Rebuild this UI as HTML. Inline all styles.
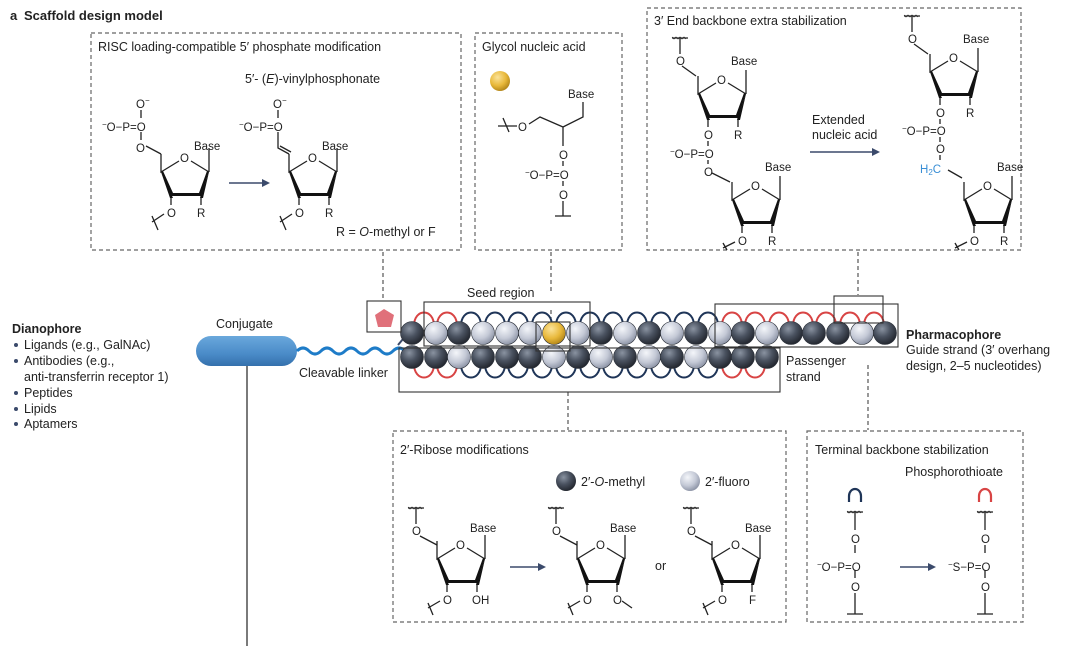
<!DOCTYPE html>
<html><head><meta charset="utf-8"><style>
html,body{margin:0;padding:0;background:#fff}
svg{display:block}
text{font-family:"Liberation Sans",sans-serif;fill:#222}
.t{font-size:12.5px}
.s{font-size:11.5px}
.b{font-weight:bold}
.box{fill:none;stroke:#666;stroke-width:1.2;stroke-dasharray:4 3}
.ln{stroke:#222;stroke-width:1.3;fill:none}
.rect{fill:none;stroke:#333;stroke-width:1.1}
.dash{stroke:#555;stroke-width:1.2;stroke-dasharray:4 3}
</style></head><body>
<svg width="1080" height="646" viewBox="0 0 1080 646" xmlns="http://www.w3.org/2000/svg">
<defs>
<radialGradient id="dk" cx="0.38" cy="0.32" r="0.7"><stop offset="0" stop-color="#8a93a1"/><stop offset="0.5" stop-color="#4a5260"/><stop offset="1" stop-color="#22262e"/></radialGradient>
<radialGradient id="lt" cx="0.38" cy="0.32" r="0.7"><stop offset="0" stop-color="#f4f6fa"/><stop offset="0.6" stop-color="#c4c9d6"/><stop offset="1" stop-color="#8d94a6"/></radialGradient>
<radialGradient id="gd" cx="0.38" cy="0.32" r="0.7"><stop offset="0" stop-color="#fbe39a"/><stop offset="0.6" stop-color="#e8b83a"/><stop offset="1" stop-color="#b3861a"/></radialGradient>
<linearGradient id="pill" x1="0" y1="0" x2="0" y2="1"><stop offset="0" stop-color="#6aa8dc"/><stop offset="0.6" stop-color="#4a8bc8"/><stop offset="1" stop-color="#3470ac"/></linearGradient>
<symbol id="ring" overflow="visible">
<path class="ln" d="M6,3 L24,14 M-6,3 L-24,14 L-24,-4 M24,14 L24,-10 M-14,38 L-14,47 M16,38 L16,47"/>
<path d="M-24,14 L-14,38 L16,38 L24,14 L22,13 L14,35 L-12,35 L-22,13Z" fill="#111"/>
<path d="M-24,14 L-12,40 L-15,40Z M24,14 L15,40 L18,40Z" fill="#111"/>
</symbol>
<symbol id="sq" overflow="visible"><path class="ln" d="M-8,0 L8,0 M0,0 L0,10" /><path d="M-8,-1 l2,2 l2,-2 l2,2 l2,-2 l2,2 l2,-2 l2,2" stroke="#222" stroke-width="0.7" fill="none"/></symbol>
</defs>

<text x="10" y="20" class="b" style="font-size:13px">a</text>
<text x="24" y="20" class="b" style="font-size:13px">Scaffold design model</text>

<rect class="box" x="91" y="33" width="370" height="217"/>
<rect class="box" x="475" y="33" width="147" height="217"/>
<rect class="box" x="647" y="8" width="374" height="242"/>
<rect class="box" x="393" y="431" width="393" height="191"/>
<rect class="box" x="807" y="431" width="216" height="191"/>

<!-- Box1 -->
<text x="98" y="51" class="t">RISC loading-compatible 5′ phosphate modification</text>
<text x="245" y="83" class="t">5′- (<tspan font-style="italic">E</tspan>)-vinylphosphonate</text>
<use href="#ring" x="185" y="158"/>
<text x="180" y="162" class="s">O</text>
<text x="194" y="150" class="s">Base</text>
<text x="167" y="217" class="s">O</text><text x="197" y="217" class="s">R</text>
<path class="ln" d="M161,154 L146,146 M141,110 L141,118 M141,132 L141,140" />
<text x="136" y="108" class="s">O<tspan dy="-5" font-size="8">−</tspan></text>
<text x="102" y="131" class="s"><tspan dy="-4" font-size="8">−</tspan><tspan dy="4">O−P=O</tspan></text>
<text x="136" y="152" class="s">O</text>
<path class="ln" d="M164,214 L152,222 M152,216 l6,14"/>
<path d="M229,183 L262,183" stroke="#3b4a6b" stroke-width="1.5"/><path d="M262,179 L270,183 L262,187Z" fill="#3b4a6b"/>
<use href="#ring" x="313" y="158"/>
<text x="308" y="162" class="s">O</text>
<text x="322" y="150" class="s">Base</text>
<text x="295" y="217" class="s">O</text><text x="325" y="217" class="s">R</text>
<path class="ln" d="M278,110 L278,118 M278,132 L278,148 L289,154 M280,146 L291,152"/>
<text x="273" y="108" class="s">O<tspan dy="-5" font-size="8">−</tspan></text>
<text x="239" y="131" class="s"><tspan dy="-4" font-size="8">−</tspan><tspan dy="4">O−P=O</tspan></text>
<path class="ln" d="M292,214 L280,222 M280,216 l6,14"/>
<text x="336" y="236" class="t">R = <tspan font-style="italic">O</tspan>-methyl or F</text>

<!-- Box2 -->
<text x="482" y="51" class="t">Glycol nucleic acid</text>
<circle cx="500" cy="81" r="10" fill="url(#gd)"/>
<path class="ln" d="M498,126 L517,126 M503,118 l6,14 M529,124 L540,117 L563,127 L583,117 L583,102 M563,127 L563,146 M563,161 L563,166 M563,181 L563,186 M563,201 L563,216 M555,216 L571,216"/>
<text x="518" y="131" class="s">O</text>
<text x="568" y="98" class="s">Base</text>
<text x="559" y="159" class="s">O</text>
<text x="525" y="179" class="s"><tspan dy="-4" font-size="8">−</tspan><tspan dy="4">O−P=O</tspan></text>
<text x="559" y="199" class="s">O</text>

<!-- Box3 -->
<text x="654" y="25" class="t">3′ End backbone extra stabilization</text>
<use href="#sq" x="680" y="38"/>
<path class="ln" d="M680,48 L680,54 M682,66 L696,76"/>
<text x="676" y="65" class="s">O</text>
<use href="#ring" x="722" y="80"/>
<text x="717" y="84" class="s">O</text>
<text x="731" y="65" class="s">Base</text>
<text x="704" y="139" class="s">O</text><text x="734" y="139" class="s">R</text>
<path class="ln" d="M708,141 L708,146 M708,160 L708,164"/>
<text x="670" y="158" class="s"><tspan dy="-4" font-size="8">−</tspan><tspan dy="4">O−P=O</tspan></text>
<text x="704" y="176" class="s">O</text>
<path class="ln" d="M712,173 L730,182"/>
<use href="#ring" x="756" y="186"/>
<text x="751" y="190" class="s">O</text>
<text x="765" y="171" class="s">Base</text>
<text x="738" y="245" class="s">O</text><text x="768" y="245" class="s">R</text>
<path class="ln" d="M735,242 L723,248 M723,243 l4,7"/>
<text x="812" y="124" class="t">Extended</text>
<text x="812" y="139" class="t">nucleic acid</text>
<path d="M810,152 L872,152" stroke="#3b4a6b" stroke-width="1.5"/><path d="M872,148 L880,152 L872,156Z" fill="#3b4a6b"/>
<use href="#sq" x="912" y="16"/>
<path class="ln" d="M912,26 L912,32 M914,44 L928,54"/>
<text x="908" y="43" class="s">O</text>
<use href="#ring" x="954" y="58"/>
<text x="949" y="62" class="s">O</text>
<text x="963" y="43" class="s">Base</text>
<text x="936" y="117" class="s">O</text><text x="966" y="117" class="s">R</text>
<path class="ln" d="M940,119 L940,124 M940,137 L940,142 M940,155 L940,160 M948,170 L962,178"/>
<text x="902" y="135" class="s"><tspan dy="-4" font-size="8">−</tspan><tspan dy="4">O−P=O</tspan></text>
<text x="936" y="153" class="s">O</text>
<text x="920" y="173" class="s" style="fill:#3a8fd6">H<tspan font-size="8" dy="2" style="fill:#3a8fd6">2</tspan><tspan dy="-2" style="fill:#3a8fd6">C</tspan></text>
<use href="#ring" x="988" y="186"/>
<text x="983" y="190" class="s">O</text>
<text x="997" y="171" class="s">Base</text>
<text x="970" y="245" class="s">O</text><text x="1000" y="245" class="s">R</text>
<path class="ln" d="M967,242 L955,248 M955,243 l4,7"/>

<!-- connectors -->
<line class="dash" x1="383" y1="252" x2="383" y2="300"/>
<line class="dash" x1="858" y1="252" x2="858" y2="295"/>
<line class="dash" x1="551" y1="252" x2="551" y2="292"/>
<line class="dash" x1="551" y1="310" x2="551" y2="330"/>
<line class="dash" x1="568" y1="392" x2="568" y2="430"/>
<line class="dash" x1="868" y1="365" x2="868" y2="430"/>

<!-- left -->
<text x="12" y="333" class="t b">Dianophore</text>
<circle cx="16" cy="345" r="2" fill="#3b4a6b"/><text x="24" y="349" class="t">Ligands (e.g., GalNAc)</text>
<circle cx="16" cy="361" r="2" fill="#3b4a6b"/><text x="24" y="365" class="t">Antibodies (e.g.,</text>
<text x="24" y="381" class="t">anti-transferrin receptor 1)</text>
<circle cx="16" cy="393" r="2" fill="#3b4a6b"/><text x="24" y="397" class="t">Peptides</text>
<circle cx="16" cy="409" r="2" fill="#3b4a6b"/><text x="24" y="413" class="t">Lipids</text>
<circle cx="16" cy="424" r="2" fill="#3b4a6b"/><text x="24" y="428" class="t">Aptamers</text>
<text x="216" y="328" class="t">Conjugate</text>
<line x1="247" y1="350" x2="247" y2="646" stroke="#333" stroke-width="1.3"/>
<rect x="196" y="336" width="101" height="30" rx="15" fill="url(#pill)"/>
<path d="M297,351 q6,-6 12,0 t12,0 t12,0 t12,0 t12,0 t12,0 t12,0 t12,0 t12,0" stroke="#1e7cc8" stroke-width="3" fill="none"/>
<text x="299" y="377" class="t">Cleavable linker</text>

<!-- strand -->
<path d="M398,345 L408,333" stroke="#3b4a6b" stroke-width="2"/>
<polygon points="384,309 394,315 391,327 378,327 375,315" fill="#e0707a"/>
<g fill="none" stroke-width="2">
<path d="M414,326 c0,-18 20,-18 20,0 M437,326 c0,-18 20,-18 20,0" stroke="#d84444"/>
<path d="M461,326 c0,-18 20,-18 20,0 M485,326 c0,-18 20,-18 20,0 M508,326 c0,-18 20,-18 20,0 M532,326 c0,-18 20,-18 20,0 M556,326 c0,-18 20,-18 20,0 M580,326 c0,-18 20,-18 20,0 M603,326 c0,-18 20,-18 20,0 M627,326 c0,-18 20,-18 20,0 M651,326 c0,-18 20,-18 20,0 M674,326 c0,-18 20,-18 20,0 M698,326 c0,-18 20,-18 20,0" stroke="#1f3558"/>
<path d="M722,326 c0,-18 20,-18 20,0 M745,326 c0,-18 20,-18 20,0 M769,326 c0,-18 20,-18 20,0 M793,326 c0,-18 20,-18 20,0 M816,326 c0,-18 20,-18 20,0 M840,326 c0,-18 20,-18 20,0 M864,326 c0,-18 20,-18 20,0" stroke="#d84444"/>
<path d="M414,364 c0,18 20,18 20,0 M437,364 c0,18 20,18 20,0 M722,364 c0,18 20,18 20,0 M745,364 c0,18 20,18 20,0" stroke="#d84444"/>
<path d="M461,364 c0,18 20,18 20,0 M485,364 c0,18 20,18 20,0 M508,364 c0,18 20,18 20,0 M532,364 c0,18 20,18 20,0 M556,364 c0,18 20,18 20,0 M580,364 c0,18 20,18 20,0 M603,364 c0,18 20,18 20,0 M627,364 c0,18 20,18 20,0 M651,364 c0,18 20,18 20,0 M674,364 c0,18 20,18 20,0 M698,364 c0,18 20,18 20,0" stroke="#1f3558"/>
</g>
<g stroke="#2a2f38" stroke-width="0.6">
<circle cx="412" cy="333" r="11.5" fill="url(#dk)"/><circle cx="436" cy="333" r="11.5" fill="url(#lt)"/><circle cx="459" cy="333" r="11.5" fill="url(#dk)"/><circle cx="483" cy="333" r="11.5" fill="url(#lt)"/><circle cx="507" cy="333" r="11.5" fill="url(#lt)"/><circle cx="530" cy="333" r="11.5" fill="url(#lt)"/><circle cx="554" cy="333" r="11.5" fill="url(#gd)"/><circle cx="578" cy="333" r="11.5" fill="url(#lt)"/><circle cx="601" cy="333" r="11.5" fill="url(#dk)"/><circle cx="625" cy="333" r="11.5" fill="url(#lt)"/><circle cx="649" cy="333" r="11.5" fill="url(#dk)"/><circle cx="672" cy="333" r="11.5" fill="url(#lt)"/><circle cx="696" cy="333" r="11.5" fill="url(#dk)"/><circle cx="720" cy="333" r="11.5" fill="url(#lt)"/><circle cx="743" cy="333" r="11.5" fill="url(#dk)"/><circle cx="767" cy="333" r="11.5" fill="url(#lt)"/><circle cx="791" cy="333" r="11.5" fill="url(#dk)"/><circle cx="814" cy="333" r="11.5" fill="url(#dk)"/><circle cx="838" cy="333" r="11.5" fill="url(#dk)"/><circle cx="862" cy="333" r="11.5" fill="url(#lt)"/><circle cx="885" cy="333" r="11.5" fill="url(#dk)"/>
<circle cx="412" cy="357" r="11.5" fill="url(#dk)"/><circle cx="436" cy="357" r="11.5" fill="url(#dk)"/><circle cx="459" cy="357" r="11.5" fill="url(#lt)"/><circle cx="483" cy="357" r="11.5" fill="url(#dk)"/><circle cx="507" cy="357" r="11.5" fill="url(#dk)"/><circle cx="530" cy="357" r="11.5" fill="url(#dk)"/><circle cx="554" cy="357" r="11.5" fill="url(#lt)"/><circle cx="578" cy="357" r="11.5" fill="url(#dk)"/><circle cx="601" cy="357" r="11.5" fill="url(#lt)"/><circle cx="625" cy="357" r="11.5" fill="url(#dk)"/><circle cx="649" cy="357" r="11.5" fill="url(#lt)"/><circle cx="672" cy="357" r="11.5" fill="url(#dk)"/><circle cx="696" cy="357" r="11.5" fill="url(#lt)"/><circle cx="720" cy="357" r="11.5" fill="url(#dk)"/><circle cx="743" cy="357" r="11.5" fill="url(#dk)"/><circle cx="767" cy="357" r="11.5" fill="url(#dk)"/>
</g>
<rect class="rect" x="367" y="301" width="34" height="31"/>
<rect class="rect" x="424" y="302" width="166" height="44"/>
<rect class="rect" x="536" y="322" width="34" height="29"/>
<rect class="rect" x="715" y="304" width="183" height="43"/>
<rect class="rect" x="834" y="296" width="49" height="27"/>
<rect class="rect" x="399" y="348" width="381" height="44"/>
<text x="467" y="297" class="t">Seed region</text>
<text x="786" y="365" class="t">Passenger</text>
<text x="786" y="381" class="t">strand</text>
<text x="906" y="339" class="t b">Pharmacophore</text>
<text x="906" y="354" class="t">Guide strand (3′ overhang</text>
<text x="906" y="370" class="t">design, 2–5 nucleotides)</text>

<!-- Box4 -->
<text x="400" y="454" class="t">2′-Ribose modifications</text>
<circle cx="566" cy="481" r="10" fill="url(#dk)"/><text x="581" y="486" class="t">2′-<tspan font-style="italic">O</tspan>-methyl</text>
<circle cx="690" cy="481" r="10" fill="url(#lt)"/><text x="705" y="486" class="t">2′-fluoro</text>
<use href="#sq" x="416" y="508"/><path class="ln" d="M416,518 L416,524 M420,536 L437,545"/><text x="412" y="535" class="s">O</text>
<use href="#ring" x="461" y="545"/><text x="456" y="549" class="s">O</text><text x="470" y="532" class="s">Base</text>
<text x="443" y="604" class="s">O</text><text x="472" y="604" class="s">OH</text>
<path class="ln" d="M440,601 L428,608 M428,603 l5,12"/>
<path d="M510,567 L538,567" stroke="#3b4a6b" stroke-width="1.5"/><path d="M538,563 L546,567 L538,571Z" fill="#3b4a6b"/>
<use href="#sq" x="556" y="508"/><path class="ln" d="M556,518 L556,524 M560,536 L577,545"/><text x="552" y="535" class="s">O</text>
<use href="#ring" x="601" y="545"/><text x="596" y="549" class="s">O</text><text x="610" y="532" class="s">Base</text>
<text x="583" y="604" class="s">O</text><text x="613" y="604" class="s">O</text><path class="ln" d="M622,601 L632,608"/>
<path class="ln" d="M580,601 L568,608 M568,603 l5,12"/>
<text x="655" y="570" class="t">or</text>
<use href="#sq" x="691" y="508"/><path class="ln" d="M691,518 L691,524 M695,536 L712,545"/><text x="687" y="535" class="s">O</text>
<use href="#ring" x="736" y="545"/><text x="731" y="549" class="s">O</text><text x="745" y="532" class="s">Base</text>
<text x="718" y="604" class="s">O</text><text x="749" y="604" class="s">F</text>
<path class="ln" d="M715,601 L703,608 M703,603 l5,12"/>

<!-- Box5 -->
<text x="815" y="454" class="t">Terminal backbone stabilization</text>
<text x="905" y="476" class="t">Phosphorothioate</text>
<path d="M849,502 L849,496 a6,7 0 0 1 12,0 L861,502" stroke="#1f3558" stroke-width="2.2" fill="none"/>
<path d="M979,502 L979,496 a6,7 0 0 1 12,0 L991,502" stroke="#d84444" stroke-width="2.2" fill="none"/>
<use href="#sq" x="855" y="512"/><path class="ln" d="M855,522 L855,530 M855,545 L855,553 M855,570 L855,578 M855,593 L855,614 M847,614 L863,614"/>
<text x="851" y="543" class="s">O</text>
<text x="817" y="571" class="s"><tspan dy="-4" font-size="8">−</tspan><tspan dy="4">O−P=O</tspan></text>
<text x="851" y="591" class="s">O</text>
<path d="M900,567 L928,567" stroke="#3b4a6b" stroke-width="1.5"/><path d="M928,563 L936,567 L928,571Z" fill="#3b4a6b"/>
<use href="#sq" x="985" y="512"/><path class="ln" d="M985,522 L985,530 M985,545 L985,553 M985,570 L985,578 M985,593 L985,614 M977,614 L993,614"/>
<text x="981" y="543" class="s">O</text>
<text x="948" y="571" class="s"><tspan dy="-4" font-size="8">−</tspan><tspan dy="4">S−P=O</tspan></text>
<text x="981" y="591" class="s">O</text>
</svg>
</body></html>
